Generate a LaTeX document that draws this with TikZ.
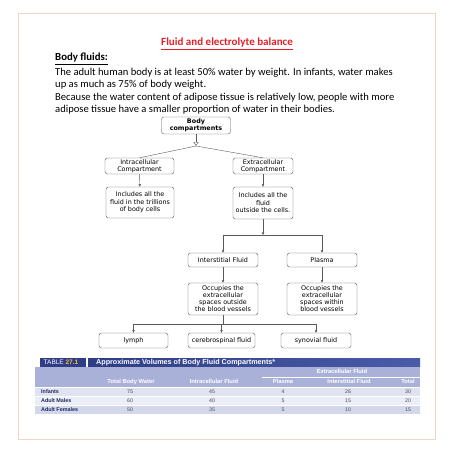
\documentclass[tikz,border=0pt]{standalone}
\usepackage{fontspec}
\setmainfont{Carlito}
\newfontfamily\boxfont{DejaVu Sans}
\newfontfamily\tabfont{Liberation Sans}
\usetikzlibrary{arrows.meta}

\definecolor{titlered}{HTML}{E3202A}
\definecolor{pageline}{HTML}{F0D6C2}
\definecolor{boxline}{HTML}{5A5A5A}
\definecolor{tabnavy}{HTML}{2E3D85}
\definecolor{tabblue}{HTML}{4A5CA8}
\definecolor{tabhead}{HTML}{AAB1D9}
\definecolor{rowa}{HTML}{DFE2F1}
\definecolor{rowb}{HTML}{ECEEF7}
\definecolor{rowc}{HTML}{D3D7EC}
\definecolor{tabtext}{HTML}{1F2A5C}
\definecolor{tabgold}{HTML}{F2C12E}

\tikzset{
  fbox/.style={draw=boxline,rounded corners=2.5pt,fill=white,align=center,
    inner sep=1pt,font=\boxfont\fontsize{6.4}{7.4}\selectfont},
  colhead/.style={text=white,inner sep=0pt,text height=4.2pt,text depth=1.2pt,
    font=\tabfont\bfseries\fontsize{5.8}{6}\selectfont},
  cell/.style={text=black!70,inner sep=0pt,text height=3.8pt,text depth=0.8pt,
    font=\tabfont\fontsize{5.2}{6}\selectfont}
}

\begin{document}
\begin{tikzpicture}[x=1pt,y=-1pt,>={Stealth[length=3pt,width=2.6pt]}]
\useasboundingbox (0,0) rectangle (453,453);
\draw[pageline,thin] (18,13) rectangle (435,439);

% heading and text
\begin{scope}[every node/.style={anchor=west,inner sep=0pt,font=\fontsize{10.6}{12}\selectfont}]
    \node[anchor=center,text=titlered,font=\bfseries\fontsize{11}{12}\selectfont] (T) at (227,44) {\underline{Fluid and electrolyte balance}};
    \node[font=\bfseries\fontsize{10.8}{12}\selectfont] (H) at (55,59) {\underline{Body fluids:}};
    \node (P1) at (55,73) {The adult human body is at least 50\% water by weight. In infants, water makes};
    \node (P2) at (55,85) {up as much as 75\% of body weight.};
    \node (P3) at (55,98) {Because the water content of adipose tissue is relatively low, people with more};
    \node (P4) at (55,110) {adipose tissue have a smaller proportion of water in their bodies.};
\end{scope}

% compartments chart
\begin{scope}[every node/.style={fbox}]
    \node[minimum width=69pt,minimum height=17pt,font=\boxfont\bfseries\fontsize{6.4}{7}\selectfont] (BC) at (196,125.5) {Body\\compartments};
    \node[minimum width=69pt,minimum height=16pt] (IC) at (139.5,166) {Intracellular\\Compartment};
    \node[minimum width=60pt,minimum height=16pt] (EC) at (263,166) {Extracellular\\Compartment};
    \node[minimum width=68pt,minimum height=31pt] (ICx) at (140,202.5) {Includes all the\\fluid in the trillions\\of body cells};
    \node[minimum width=60pt,minimum height=32pt] (ECx) at (263,203) {Includes all the\\fluid\\outside the cells.};
    \node[minimum width=70pt,minimum height=14pt] (IF) at (223,260) {Interstitial Fluid};
    \node[minimum width=70pt,minimum height=14pt] (PL) at (322,260) {Plasma};
    \node[minimum width=70pt,minimum height=32pt,font=\boxfont\fontsize{6.4}{7}\selectfont] (IFx) at (223,299) {Occupies the\\extracellular\\spaces outside\\the blood vessels};
    \node[minimum width=70pt,minimum height=32pt,font=\boxfont\fontsize{6.4}{7}\selectfont] (PLx) at (322,299) {Occupies the\\extracellular\\spaces within\\blood vessels};
    \node[minimum width=69pt,minimum height=15pt] (LY) at (133.5,340.5) {lymph};
    \node[minimum width=67pt,minimum height=15pt] (CSF) at (221.5,340.5) {cerebrospinal fluid};
    \node[minimum width=70pt,minimum height=15pt] (SF) at (316,340.5) {synovial fluid};
\end{scope}

\begin{scope}[boxline]
    \coordinate (J) at (196,146);
    \draw[-{Triangle[open,length=4pt,width=5pt]}] (BC) -- (J);
    \draw (J) -- (IC.north) (J) -- (EC.north);
    \path[->] (IC) edge (ICx) (EC) edge (ECx);
    \coordinate (S1) at (263,235);
    \draw[->] (ECx) -- (S1);
    \draw (IF.north |- S1) -- (PL.north |- S1);
    \path[->] (IF.north |- S1) edge (IF) (PL.north |- S1) edge (PL);
    \path[->] (IF) edge (IFx) (PL) edge (PLx);
    \coordinate (S2) at (223,324);
    \draw (IFx) -- (S2);
    \draw (LY.north |- S2) -- (SF.north |- S2);
    \path[->] (LY.north |- S2) edge (LY) (CSF.north |- S2) edge (CSF) (SF.north |- S2) edge (SF);
\end{scope}

% table 27.1
\fill[tabnavy] (40,358) rectangle (86,367);
\shade[left color=tabnavy,right color=tabblue] (88,358) rectangle (420,367);
\node[text=white,inner sep=0pt,font=\tabfont\fontsize{6.5}{7}\selectfont] (TN) at (61,362.5) {TABLE \textcolor{tabgold}{\bfseries 27.1}};
\node[anchor=west,text=white,inner sep=0pt,font=\tabfont\bfseries\fontsize{7.2}{8}\selectfont] (TT) at (96,362.5) {Approximate Volumes of Body Fluid Compartments*};
\fill[tabhead] (35,367) rectangle (420,387);
\draw[white,line width=0.7pt] (262,377) -- (420,377);
\node[colhead] (XF) at (342,372) {Extracellular Fluid};
\node[colhead] (C1) at (131,382) {Total Body Water};
\node[colhead] (C2) at (214,382) {Intracellular Fluid};
\node[colhead] (C3) at (283,382) {Plasma};
\node[colhead] (C4) at (349,382) {Interstitial Fluid};
\node[colhead] (C5) at (408,382) {Total};
\foreach \y/\c/\lab/\a/\b/\p/\i/\t [count=\n] in
    {392/rowa/Infants/75/45/4/26/30, 401/rowb/Adult Males/60/40/5/15/20, 410/rowc/Adult Females/50/35/5/10/15} {
    \fill[\c] (35,\y-4.3) rectangle (420,\y+4.3);
    \node[anchor=west,text=tabtext,inner sep=0pt,text height=4pt,text depth=1pt,font=\tabfont\bfseries\fontsize{5.4}{6}\selectfont] (R\n) at (41,\y) {\lab};
    \node[cell] (R\n a) at (130,\y) {\a};
    \node[cell] (R\n b) at (212,\y) {\b};
    \node[cell] (R\n c) at (283,\y) {\p};
    \node[cell] (R\n d) at (348,\y) {\i};
    \node[cell] (R\n e) at (408,\y) {\t};
}
\end{tikzpicture}
\end{document}
